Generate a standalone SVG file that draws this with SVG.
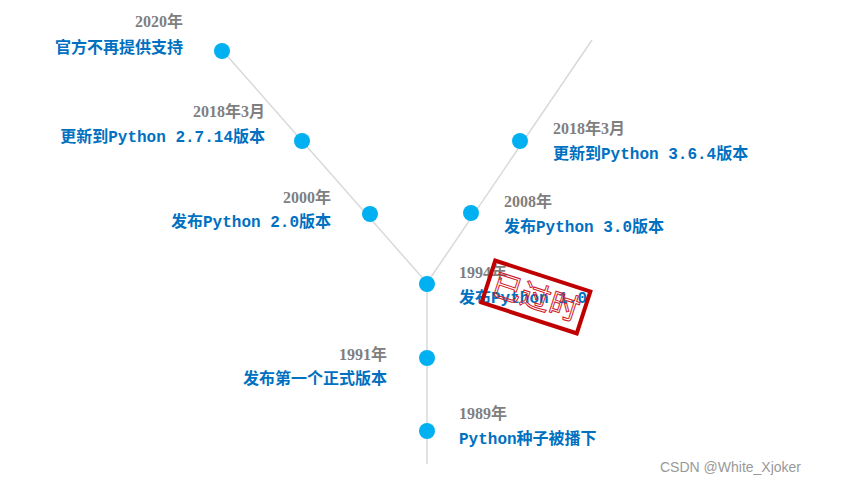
<svg xmlns="http://www.w3.org/2000/svg" width="851" height="486" viewBox="0 0 851 486">
<style>
.y{font-family:"Liberation Serif","Noto Sans CJK SC",serif;font-weight:bold;font-size:16px;fill:#7f7f7f}
.l{font-family:"Liberation Mono","Noto Sans CJK SC",monospace;font-weight:bold;font-size:16px;fill:#0070c0}
.r{text-anchor:end}
.d{fill:#00b0f0}
</style>
<rect width="851" height="486" fill="#fff"/>
<g id="connectors" stroke="#d9d9d9" stroke-width="1.5" fill="none">
<line x1="222" y1="50" x2="427" y2="283"/>
<line x1="592" y1="40" x2="427" y2="283"/>
<line x1="427" y1="283" x2="427" y2="464"/>
</g>
<g id="n2020"><circle class="d" cx="222" cy="51" r="8"/><text class="y r" x="183" y="27">2020年</text><text class="l r" x="183" y="53">官方不再提供支持</text></g>
<g id="n2018a"><circle class="d" cx="302" cy="141" r="8"/><text class="y r" x="265" y="117">2018年3月</text><text class="l r" x="265" y="142">更新到Python 2.7.14版本</text></g>
<g id="n2000"><circle class="d" cx="370" cy="214" r="8"/><text class="y r" x="331" y="203">2000年</text><text class="l r" x="331" y="227">发布Python 2.0版本</text></g>
<g id="n2018b"><circle class="d" cx="520" cy="141" r="8"/><text class="y" x="553" y="134">2018年3月</text><text class="l" x="553" y="159">更新到Python 3.6.4版本</text></g>
<g id="n2008"><circle class="d" cx="471" cy="213" r="8"/><text class="y" x="504" y="207">2008年</text><text class="l" x="504" y="232">发布Python 3.0版本</text></g>
<g id="n1994"><circle class="d" cx="427" cy="284" r="8"/><text class="y" x="459" y="278">1994年</text><text class="l" x="459" y="303">发布Python 1.0</text></g>
<g id="n1991"><circle class="d" cx="427" cy="358" r="8"/><text class="y r" x="387" y="360">1991年</text><text class="l r" x="387" y="384">发布第一个正式版本</text></g>
<g id="n1989"><circle class="d" cx="427" cy="431" r="8"/><text class="y" x="459" y="419">1989年</text><text class="l" x="459" y="444">Python种子被播下</text></g>
<g id="stamp" transform="translate(536,297) rotate(18)">
<rect x="-50" y="-22" width="100" height="44" fill="none" stroke="#c00000" stroke-width="4"/>
<text x="0" y="11" text-anchor="middle" font-family="Noto Sans CJK SC,sans-serif" font-size="30" fill="none" stroke="#d0202a" stroke-width="1">已过时</text>
</g>
<text x="660" y="472" font-family="Liberation Sans,Noto Sans CJK SC,sans-serif" font-size="14" fill="#999">CSDN @White_Xjoker</text>
</svg>
